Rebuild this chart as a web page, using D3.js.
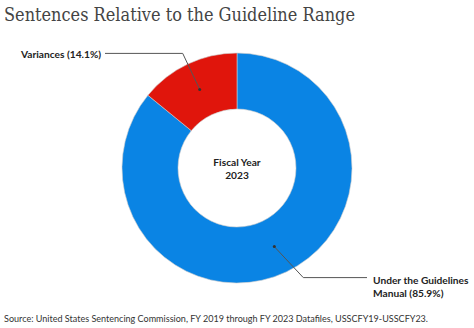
<!DOCTYPE html>
<html lang="en">
<head>
<meta charset="UTF-8">
<title>Sentences Relative to the Guideline Range</title>
<script src="https://d3js.org/d3.v7.min.js"></script>
<style>
    body { margin: 0; background: #fff; }
    .title { font-family: "DejaVu Serif", serif; font-size: 19px; fill: #444; }
    .lbl { font-family: Lato, sans-serif; font-weight: bold; font-size: 10.2px; fill: #222; }
    .src { font-family: Lato, sans-serif; font-size: 9.8px; fill: #333; }
    .leader { fill: none; stroke: #555; stroke-width: 1; }
</style>
</head>
<body>
<svg id="chart"></svg>
<script>
    var categories = ["Under the Guidelines Manual", "Variances"];
    var shares = [85.9, 14.1];
    var colors = ["#0a84e4", "#e0150c"];
    var labels = [["Under the Guidelines", "Manual (85.9%)"], ["Variances (14.1%)"]];
    var centerText = ["Fiscal Year", "2023"];

    var width = 474, height = 328;
    var cx = 237, cy = 168, rOuter = 115, rInner = 59;

    var svg = d3.select("#chart").attr("width", width).attr("height", height);

    svg.append("text").attr("class", "title")
        .attr("x", 4).attr("y", 21)
        .attr("textLength", 351).attr("lengthAdjust", "spacingAndGlyphs")
        .text("Sentences Relative to the Guideline Range");

    var data = categories.map(function(c, i) { return {name: c, value: shares[i], color: colors[i], label: labels[i]}; });

    var pie = d3.pie().sort(null).value(function(d) { return d.value; });
    var arc = d3.arc().innerRadius(rInner).outerRadius(rOuter);
    var arcs = pie(data);

    var g = svg.append("g").attr("transform", "translate(" + cx + "," + cy + ")");

    g.selectAll("path").data(arcs).enter().append("path")
        .attr("d", arc)
        .attr("fill", function(d) { return d.data.color; })
        .attr("stroke", "#ccc").attr("stroke-width", 0.6);

    // leader lines from slice centroids
    var blue = arc.centroid(arcs[0]), red = arc.centroid(arcs[1]);

    g.append("path").attr("class", "leader")
        .attr("d", d3.line()([blue, [blue[0] + 29, blue[1] + 31], [130, blue[1] + 31]]));
    g.append("path").attr("class", "leader")
        .attr("d", d3.line()([red, [red[0] - 17, red[1] - 36], [-132, red[1] - 36]]));

    g.selectAll("circle").data([blue, red]).enter().append("circle")
        .attr("cx", function(d) { return d[0]; }).attr("cy", function(d) { return d[1]; })
        .attr("r", 1.5).attr("fill", "#333");

    svg.append("text").attr("class", "lbl")
        .selectAll("tspan").data(labels[0]).enter().append("tspan")
        .attr("x", cx + 136).attr("y", function(d, i) { return 284 + i * 13; })
        .text(function(d) { return d; });

    svg.append("text").attr("class", "lbl")
        .attr("x", 21).attr("y", 58)
        .text(labels[1][0]);

    svg.append("text").attr("class", "lbl").attr("text-anchor", "middle")
        .selectAll("tspan").data(centerText).enter().append("tspan")
        .attr("x", cx).attr("y", function(d, i) { return cy - 2 + i * 13; })
        .text(function(d) { return d; });

    svg.append("text").attr("class", "src")
        .attr("x", 4).attr("y", 322)
        .attr("textLength", 424).attr("lengthAdjust", "spacingAndGlyphs")
        .text("Source: United States Sentencing Commission, FY 2019 through FY 2023 Datafiles, USSCFY19-USSCFY23.");
</script>
</body>
</html>
